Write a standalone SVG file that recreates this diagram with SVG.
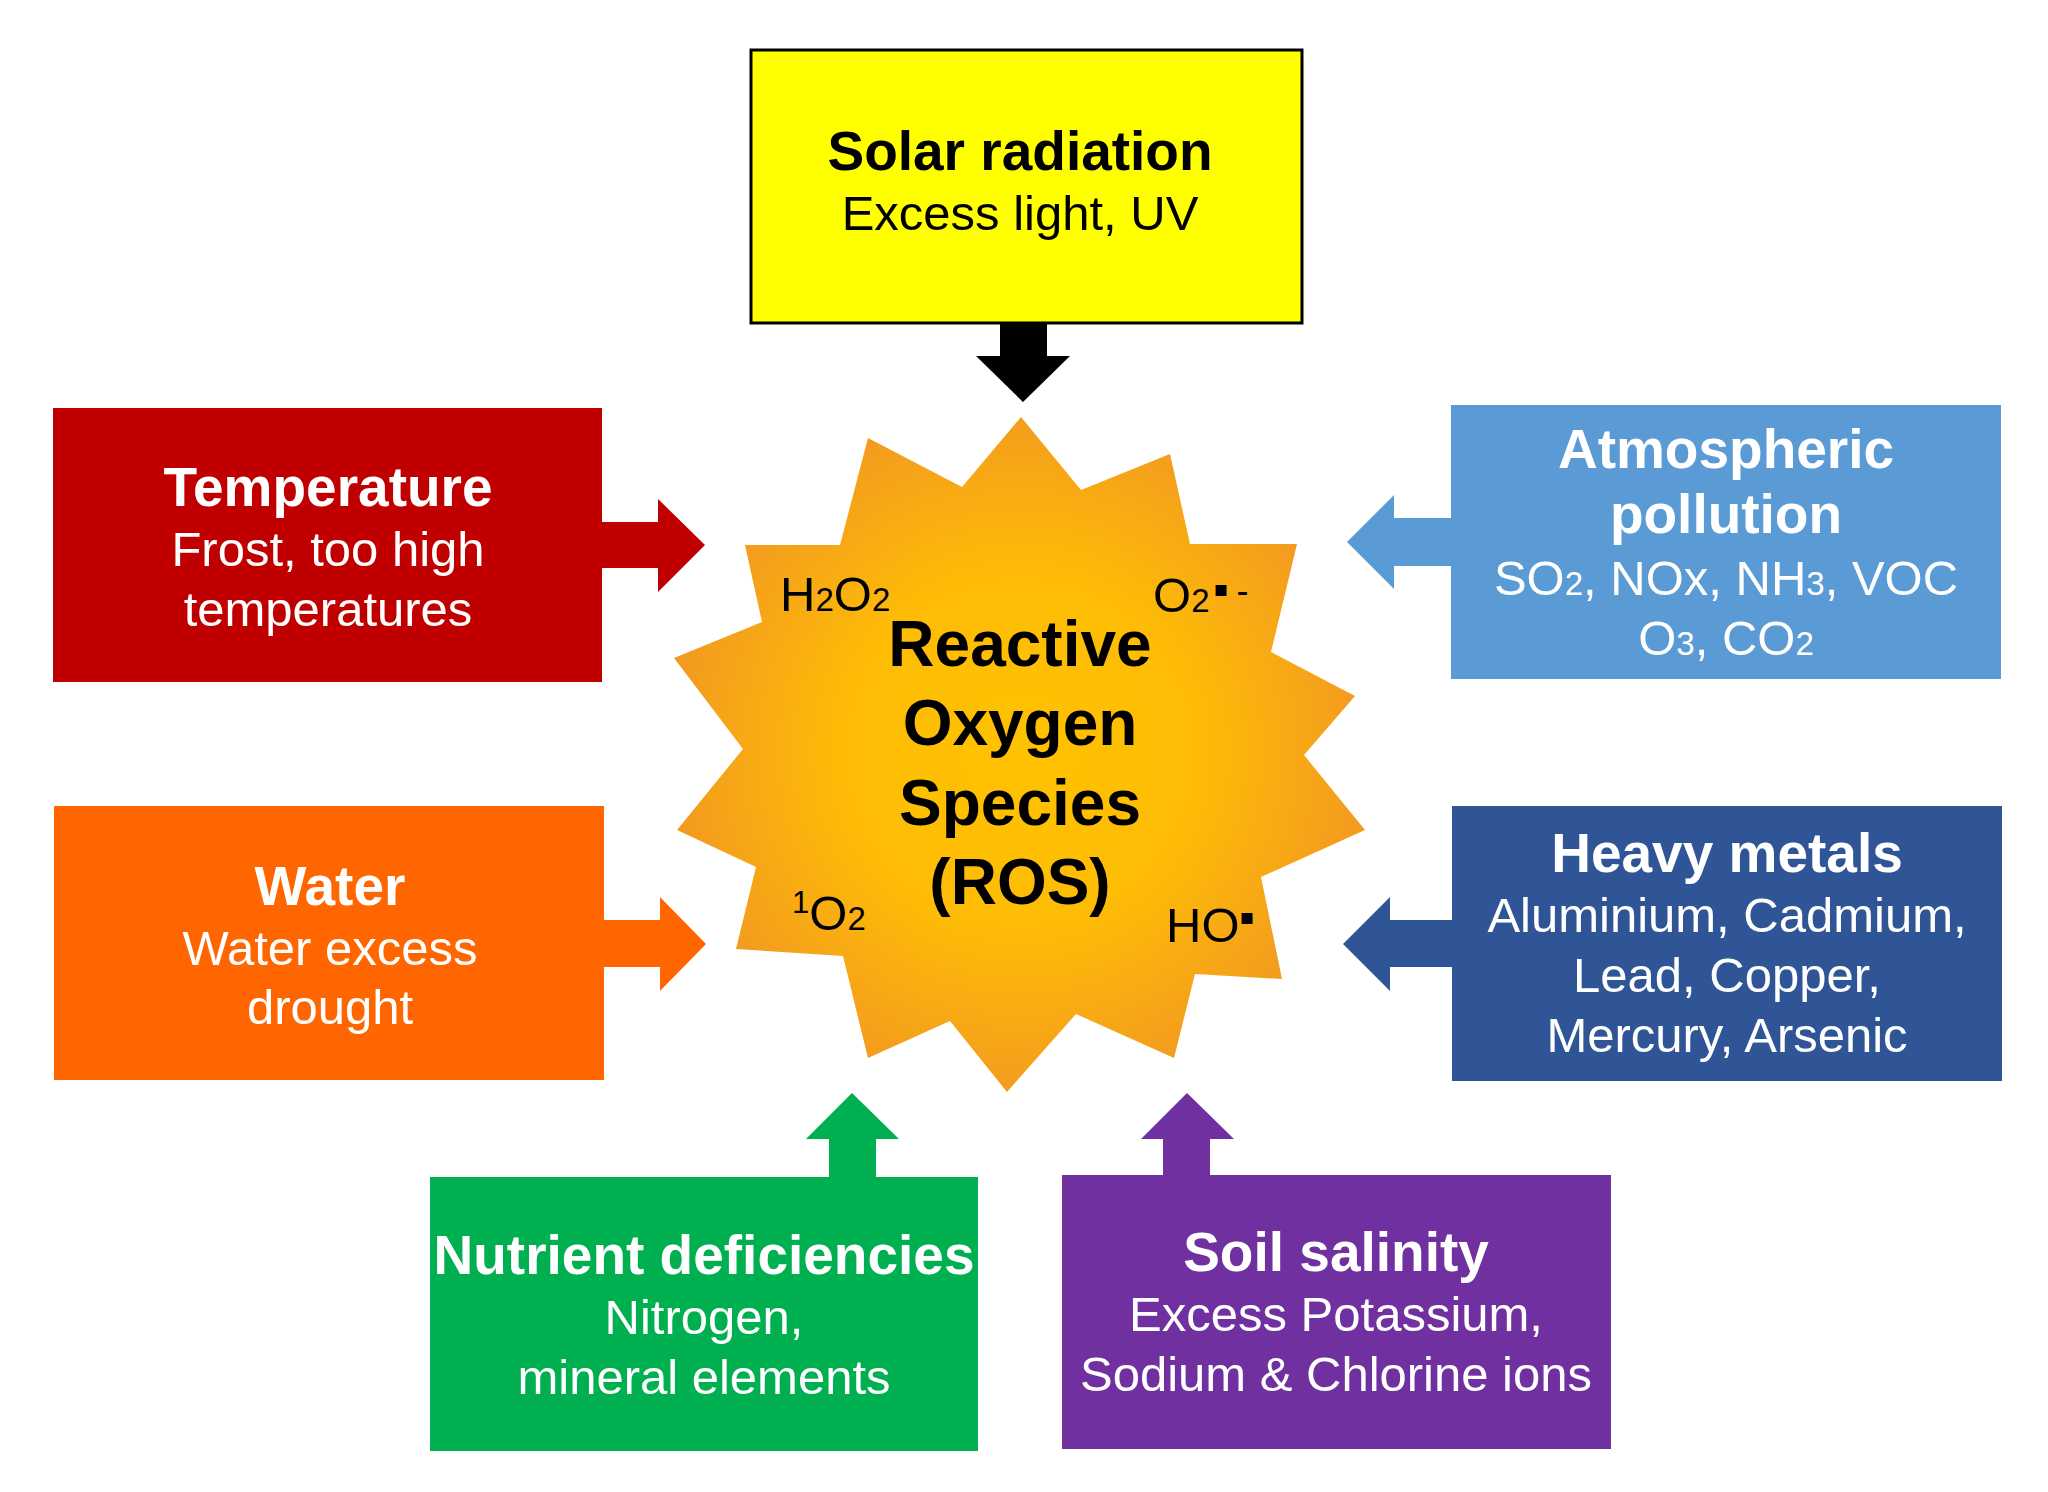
<svg xmlns="http://www.w3.org/2000/svg" width="2048" height="1492" viewBox="0 0 2048 1492">
<defs>
<radialGradient id="sun" gradientUnits="userSpaceOnUse" cx="1020" cy="752" r="350">
<stop offset="0" stop-color="#FFC200"/>
<stop offset="0.5" stop-color="#FEBC06"/>
<stop offset="1" stop-color="#F39A20"/>
</radialGradient>
<style>
text{font-family:"Liberation Sans",Arial,sans-serif;text-anchor:middle}
.t{font-size:55px;font-weight:bold}
.s{font-size:49px}
.w{fill:#ffffff}
.k{fill:#000000}
.sub{font-size:33px}
.lab{font-size:49px;text-anchor:start;fill:#000}
</style>
</defs>
<rect width="2048" height="1492" fill="#ffffff"/>

<g id="connectors">
<polygon points="1000,323 1047,323 1047,356 1070,356 1023,402 976,356 1000,356" fill="#000000"/>
<polygon points="601,522 658,522 658,499 705,545 658,592 658,568 601,568" fill="#C00000"/>
<polygon points="603,920 660,920 660,897 706,944 660,991 660,967 603,967" fill="#FF6600"/>
<polygon points="1452,518 1394,518 1394,495 1347,542 1394,589 1394,566 1452,566" fill="#5B9BD5"/>
<polygon points="1453,920 1390,920 1390,897 1343,944 1390,991 1390,967 1453,967" fill="#2F5597"/>
<polygon points="829,1178 829,1139 806,1139 852,1093 899,1139 876,1139 876,1178" fill="#00B050"/>
<polygon points="1163,1176 1163,1139 1141,1139 1187,1093 1234,1139 1210,1139 1210,1176" fill="#7030A0"/>
</g>

<g id="ros">
<polygon fill="url(#sun)" points="1021,417 1081,490 1170,454 1190,544 1297,544 1271,652 1355,696 1304,755 1365,830 1261,877 1282,979 1195,974 1174,1058 1076,1014 1007,1092 950,1021 868,1058 843,956 736,949 756,867 677,830 743,749 674,658 762,622 745,545 840,545 868,438 962,487"/>
<text class="t k" style="font-size:64px" x="1020" y="666">Reactive</text>
<text class="t k" style="font-size:64px" x="1020" y="745">Oxygen</text>
<text class="t k" style="font-size:64px" x="1020" y="825">Species</text>
<text class="t k" style="font-size:64px" x="1020" y="904">(ROS)</text>
<text class="lab" x="780" y="611">H<tspan class="sub">2</tspan>O<tspan class="sub">2</tspan></text>
<text class="lab" x="1153" y="612">O<tspan class="sub">2</tspan><tspan font-family="DejaVu Sans" font-size="22px" dx="4" dy="-16">▪</tspan><tspan font-size="36px" dx="8" dy="7">-</tspan></text>
<text class="lab" x="792" y="930"><tspan font-size="31px" dy="-17">1</tspan><tspan dy="17">O</tspan><tspan class="sub">2</tspan></text>
<text class="lab" x="1166" y="942">HO<tspan font-family="DejaVu Sans" font-size="22px" dy="-18">▪</tspan></text>
</g>

<g id="solar">
<rect x="751" y="50" width="551" height="273" fill="#FFFF00" stroke="#000000" stroke-width="3"/>
<text class="t k" x="1020" y="170">Solar radiation</text>
<text class="s k" x="1020" y="230">Excess light, UV</text>
</g>

<g id="temperature">
<rect x="53" y="408" width="549" height="274" fill="#C00000"/>
<text class="t w" x="328" y="506">Temperature</text>
<text class="s w" x="328" y="566">Frost, too high</text>
<text class="s w" x="328" y="626">temperatures</text>
</g>

<g id="water">
<rect x="54" y="806" width="550" height="274" fill="#FF6600"/>
<text class="t w" x="330" y="905">Water</text>
<text class="s w" x="330" y="965">Water excess</text>
<text class="s w" x="330" y="1024">drought</text>
</g>

<g id="atmospheric">
<rect x="1451" y="405" width="550" height="274" fill="#5B9BD5"/>
<text class="t w" x="1726" y="468">Atmospheric</text>
<text class="t w" x="1726" y="533">pollution</text>
<text class="s w" x="1726" y="595">SO<tspan class="sub">2</tspan>, NOx, NH<tspan class="sub">3</tspan>, VOC</text>
<text class="s w" x="1726" y="655">O<tspan class="sub">3</tspan>, CO<tspan class="sub">2</tspan></text>
</g>

<g id="heavy">
<rect x="1452" y="806" width="550" height="275" fill="#2F5597"/>
<text class="t w" x="1727" y="872">Heavy metals</text>
<text class="s w" x="1727" y="932">Aluminium, Cadmium,</text>
<text class="s w" x="1727" y="992">Lead, Copper,</text>
<text class="s w" x="1727" y="1052">Mercury, Arsenic</text>
</g>

<g id="nutrient">
<rect x="430" y="1177" width="548" height="274" fill="#00B050"/>
<text class="t w" x="704" y="1274">Nutrient deficiencies</text>
<text class="s w" x="704" y="1334">Nitrogen,</text>
<text class="s w" x="704" y="1394">mineral elements</text>
</g>

<g id="salinity">
<rect x="1062" y="1175" width="549" height="274" fill="#7030A0"/>
<text class="t w" x="1336" y="1271">Soil salinity</text>
<text class="s w" x="1336" y="1331">Excess Potassium,</text>
<text class="s w" x="1336" y="1391">Sodium &amp; Chlorine ions</text>
</g>
</svg>
